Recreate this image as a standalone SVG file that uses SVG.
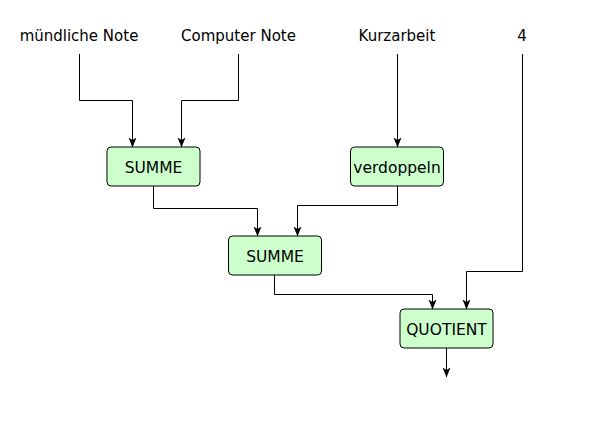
<svg xmlns="http://www.w3.org/2000/svg" width="596" height="433" viewBox="0 0 596 433">
<style>
.node rect{fill:#ccffcc;stroke:#000;stroke-width:1}
text{font-family:"DejaVu Sans","Liberation Sans",sans-serif;font-size:15.5px;fill:#000;text-anchor:middle}
.lbl{font-size:15px}
.edges path{fill:none;stroke:#000;stroke-width:1;marker-end:url(#arr)}
</style>
<defs>
<marker id="arr" viewBox="0 0 10 10" refX="9.5" refY="5" markerWidth="10" markerHeight="10" markerUnits="userSpaceOnUse" orient="auto">
<path d="M0,1 L10,5 L0,9 L2.5,5 Z" fill="#000"/>
</marker>
</defs>
<rect width="596" height="433" fill="#fff"/>
<g id="label-muendlich"><text class="lbl" x="79" y="41">mündliche Note</text></g>
<g id="label-computer"><text class="lbl" x="238.5" y="41">Computer Note</text></g>
<g id="label-kurzarbeit"><text class="lbl" x="397" y="41">Kurzarbeit</text></g>
<g id="label-4"><text class="lbl" x="522" y="41">4</text></g>
<g id="summe1" class="node"><rect x="107" y="147" width="93" height="39" rx="4"/><text x="153.5" y="172.5">SUMME</text></g>
<g id="verdoppeln" class="node"><rect x="350.5" y="147" width="93" height="39" rx="4"/><text x="397" y="172.5">verdoppeln</text></g>
<g id="summe2" class="node"><rect x="228.5" y="236" width="93" height="39" rx="4"/><text x="275" y="261.5">SUMME</text></g>
<g id="quotient" class="node"><rect x="400" y="309" width="93" height="39" rx="4"/><text x="446.5" y="334.5">QUOTIENT</text></g>
<g class="edges">
<path d="M79.5,54 V100.5 H132.5 V147"/>
<path d="M238.5,54 V100.5 H181.5 V147"/>
<path d="M397.5,54 V147"/>
<path d="M153.5,186 V208.5 H257.5 V236"/>
<path d="M397.5,186 V205.5 H297.5 V236"/>
<path d="M274.5,275 V294.5 H432.5 V309"/>
<path d="M522.5,54 V271.5 H466.5 V309"/>
<path d="M446.5,348 V377"/>
</g>
</svg>
